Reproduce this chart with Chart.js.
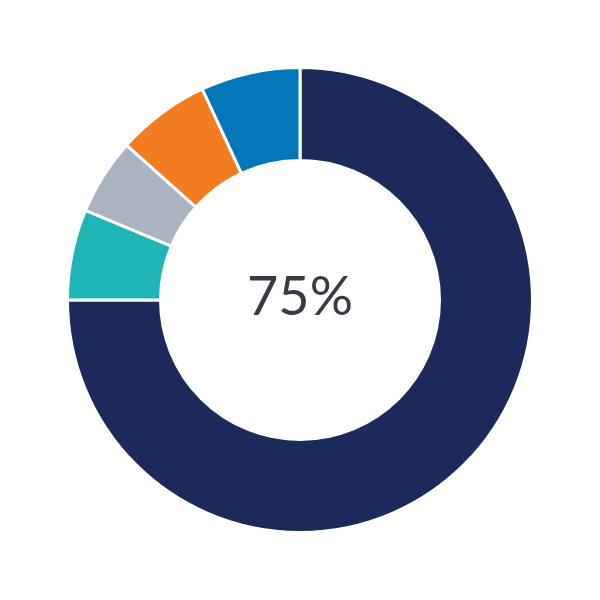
<!DOCTYPE html>
<html>
<head>
<meta charset="utf-8">
<script src="https://cdn.jsdelivr.net/npm/chart.js@4"></script>
<style>
  html, body { margin: 0; padding: 0; background: #fff; }
  #wrap { width: 600px; height: 600px; }
</style>
</head>
<body>
<div id="wrap"><canvas id="chart"></canvas></div>
<script>
// Dados do gráfico
const labels = ['A', 'B', 'C', 'D', 'E'];
const values = [75, 6.3, 5.3, 6.5, 6.9];
const colors = ['#1b2a5b', '#1fb4b6', '#a9b3c1', '#f37b20', '#0377b7'];
const centerLabel = '75%';

// Texto no centro do anel
const centerText = {
    id: 'centerText',
    afterDraw(chart) {
        const ctx = chart.ctx;
        const meta = chart.getDatasetMeta(0).data[0];
        ctx.save();
        ctx.font = '400 54px Lato';
        ctx.fillStyle = '#353c45';
        ctx.textAlign = 'center';
        ctx.textBaseline = 'middle';
        ctx.fillText(centerLabel, meta.x, meta.y - 2);
        ctx.restore();
    }
};

new Chart(document.getElementById('chart'), {
    type: 'doughnut',
    data: {
        labels: labels,
        datasets: [{
            data: values,
            backgroundColor: colors,
            borderColor: '#ffffff',
            borderWidth: 3
        }]
    },
    options: {
        responsive: true,
        maintainAspectRatio: false,
        animation: false,
        cutout: '60%',
        layout: { padding: 66 },
        plugins: {
            legend: { display: false },
            tooltip: { enabled: false }
        }
    },
    plugins: [centerText]
});
</script>
</body>
</html>
